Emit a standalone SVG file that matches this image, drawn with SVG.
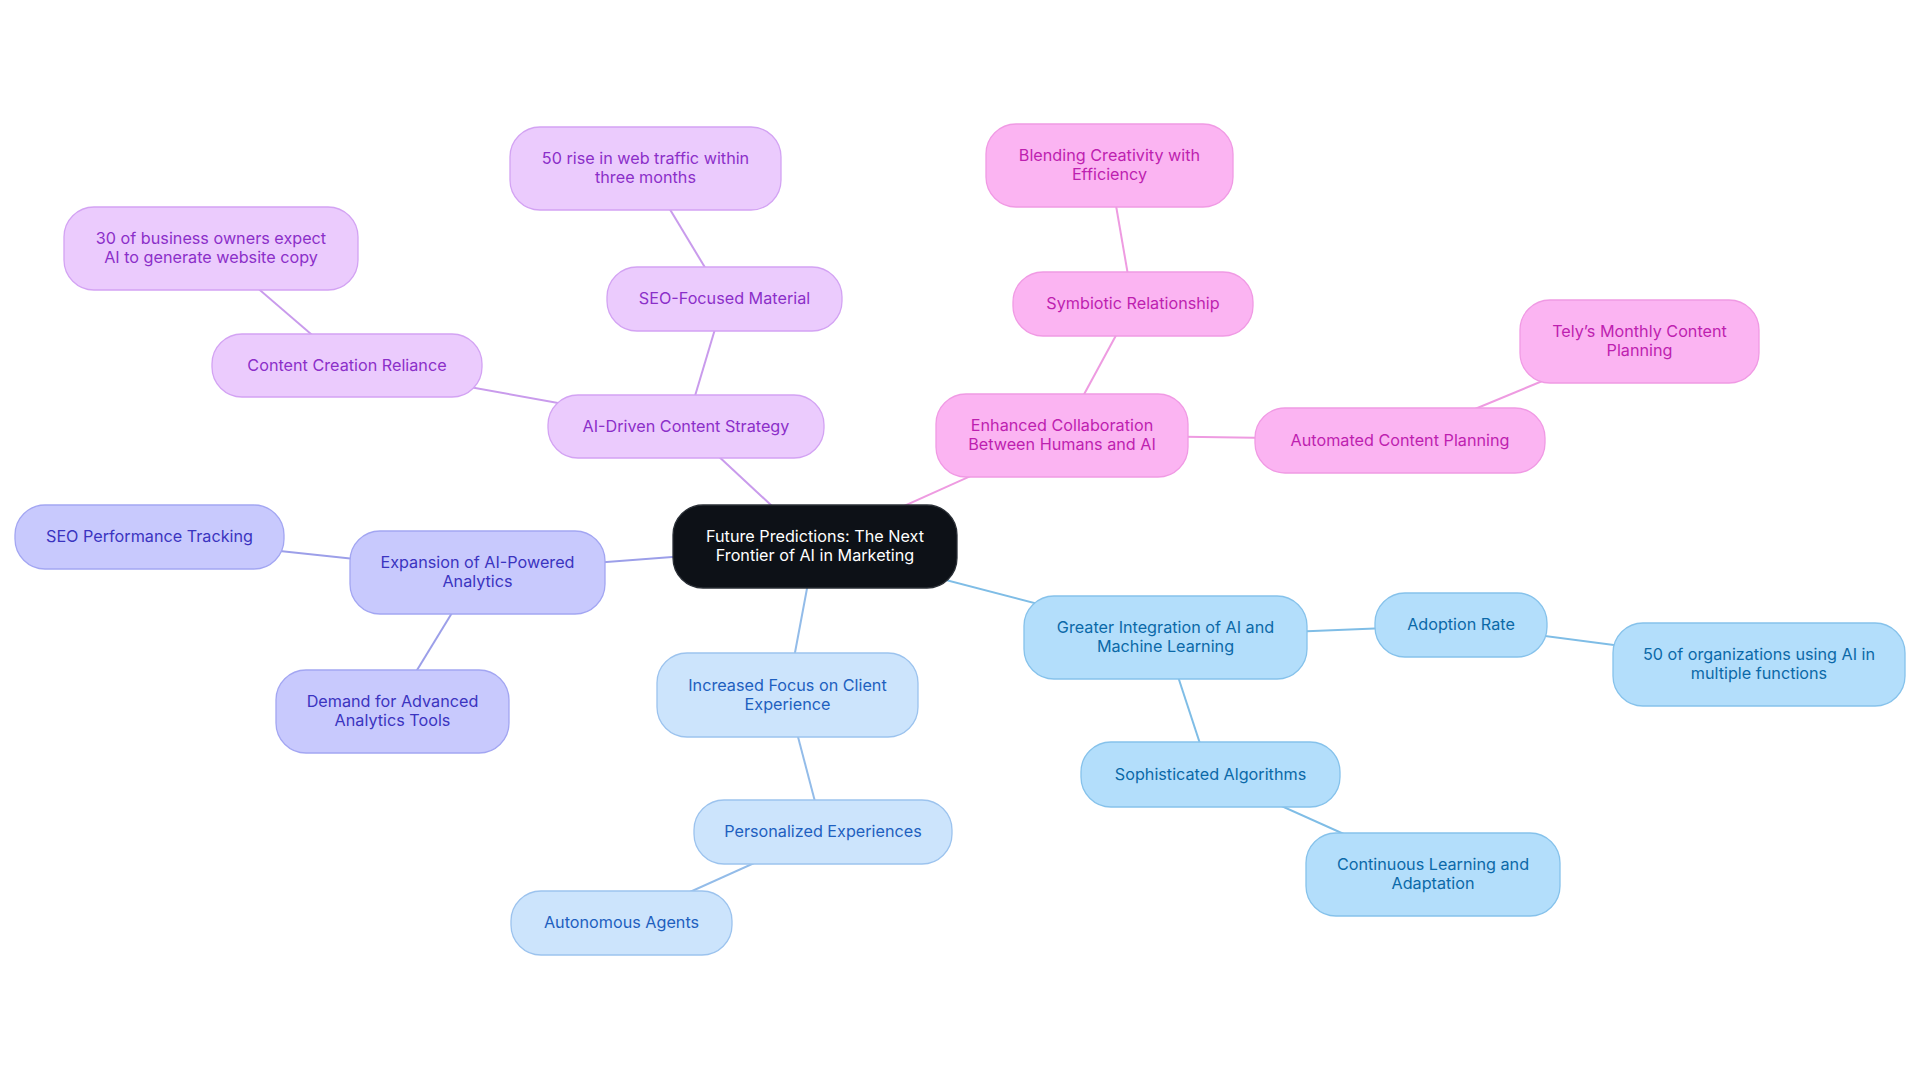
<svg xmlns="http://www.w3.org/2000/svg" width="1920" height="1083" viewBox="0 0 1920 1083">
<style>
text{font-family:Inter,"Noto Sans","Liberation Sans",sans-serif;font-size:16.2px;text-anchor:middle;dominant-baseline:central;transform:translateY(-1px)}
.n rect{stroke-width:1.3}
.c line{stroke-width:2;fill:none}
.pu rect{fill:#EBCBFD;stroke:#D3A3F3}.pu text{fill:#8B2FC9}
.pk rect{fill:#FBB4F2;stroke:#F09AE4}.pk text{fill:#BE1FB0}
.ind rect{fill:#C8C9FD;stroke:#A3A6F2}.ind text{fill:#3B34C0}
.lb rect{fill:#CCE4FC;stroke:#9CC3EE}.lb text{fill:#1E5FBF}
.sk rect{fill:#B3DEFB;stroke:#86C2EB}.sk text{fill:#0B69A8}
.root rect{fill:#0D1117;stroke:#2A2F36}.root text{fill:#FFFFFF}
</style>
<rect width="1920" height="1083" fill="#FFFFFF"/>
<g id="connectors" class="c">
<line x1="815" y1="546" x2="686" y2="426" stroke="#C99BEC"/>
<line x1="686" y1="426" x2="724" y2="299" stroke="#C99BEC"/>
<line x1="724" y1="299" x2="645" y2="168" stroke="#C99BEC"/>
<line x1="686" y1="426" x2="347" y2="365" stroke="#C99BEC"/>
<line x1="347" y1="365" x2="211" y2="248" stroke="#C99BEC"/>
<line x1="815" y1="546" x2="1062" y2="435" stroke="#EE9BE1"/>
<line x1="1062" y1="435" x2="1133" y2="304" stroke="#EE9BE1"/>
<line x1="1133" y1="304" x2="1109" y2="165" stroke="#EE9BE1"/>
<line x1="1062" y1="435" x2="1400" y2="440" stroke="#EE9BE1"/>
<line x1="1400" y1="440" x2="1639" y2="341" stroke="#EE9BE1"/>
<line x1="815" y1="546" x2="477" y2="572" stroke="#9C9FE9"/>
<line x1="477" y1="572" x2="149" y2="537" stroke="#9C9FE9"/>
<line x1="477" y1="572" x2="392" y2="711" stroke="#9C9FE9"/>
<line x1="815" y1="546" x2="787" y2="695" stroke="#93BCE9"/>
<line x1="787" y1="695" x2="823" y2="832" stroke="#93BCE9"/>
<line x1="823" y1="832" x2="621" y2="923" stroke="#93BCE9"/>
<line x1="815" y1="546" x2="1165" y2="637" stroke="#7FBDE6"/>
<line x1="1165" y1="637" x2="1461" y2="625" stroke="#7FBDE6"/>
<line x1="1461" y1="625" x2="1759" y2="664" stroke="#7FBDE6"/>
<line x1="1165" y1="637" x2="1210" y2="774" stroke="#7FBDE6"/>
<line x1="1210" y1="774" x2="1433" y2="874" stroke="#7FBDE6"/>
</g>
<g id="root" class="n root"><rect x="673" y="505" width="284" height="83" rx="30"/><text x="815" y="537">Future Predictions: The Next</text><text x="815" y="556">Frontier of AI in Marketing</text></g>
<g id="ai-driven" class="n pu"><rect x="548" y="395" width="276" height="63" rx="30"/><text x="686" y="426.5">AI-Driven Content Strategy</text></g>
<g id="seo-focused" class="n pu"><rect x="607" y="267" width="235" height="64" rx="30"/><text x="724.5" y="299">SEO-Focused Material</text></g>
<g id="web-traffic" class="n pu"><rect x="510" y="127" width="271" height="83" rx="30"/><text x="645.5" y="159">50 rise in web traffic within</text><text x="645.5" y="178">three months</text></g>
<g id="content-creation" class="n pu"><rect x="212" y="334" width="270" height="63" rx="30"/><text x="347" y="365.5">Content Creation Reliance</text></g>
<g id="business-owners" class="n pu"><rect x="64" y="207" width="294" height="83" rx="30"/><text x="211" y="239">30 of business owners expect</text><text x="211" y="258">AI to generate website copy</text></g>
<g id="enhanced" class="n pk"><rect x="936" y="394" width="252" height="83" rx="30"/><text x="1062" y="426">Enhanced Collaboration</text><text x="1062" y="445">Between Humans and AI</text></g>
<g id="symbiotic" class="n pk"><rect x="1013" y="272" width="240" height="64" rx="30"/><text x="1133" y="304">Symbiotic Relationship</text></g>
<g id="blending" class="n pk"><rect x="986" y="124" width="247" height="83" rx="30"/><text x="1109.5" y="156">Blending Creativity with</text><text x="1109.5" y="175">Efficiency</text></g>
<g id="automated" class="n pk"><rect x="1255" y="408" width="290" height="65" rx="30"/><text x="1400" y="440.5">Automated Content Planning</text></g>
<g id="telys" class="n pk"><rect x="1520" y="300" width="239" height="83" rx="30"/><text x="1639.5" y="332">Tely’s Monthly Content</text><text x="1639.5" y="351">Planning</text></g>
<g id="expansion" class="n ind"><rect x="350" y="531" width="255" height="83" rx="30"/><text x="477.5" y="563">Expansion of AI-Powered</text><text x="477.5" y="582">Analytics</text></g>
<g id="seo-tracking" class="n ind"><rect x="15" y="505" width="269" height="64" rx="30"/><text x="149.5" y="537">SEO Performance Tracking</text></g>
<g id="demand" class="n ind"><rect x="276" y="670" width="233" height="83" rx="30"/><text x="392.5" y="702">Demand for Advanced</text><text x="392.5" y="721">Analytics Tools</text></g>
<g id="client-experience" class="n lb"><rect x="657" y="653" width="261" height="84" rx="30"/><text x="787.5" y="685.5">Increased Focus on Client</text><text x="787.5" y="704.5">Experience</text></g>
<g id="personalized" class="n lb"><rect x="694" y="800" width="258" height="64" rx="30"/><text x="823" y="832">Personalized Experiences</text></g>
<g id="autonomous" class="n lb"><rect x="511" y="891" width="221" height="64" rx="30"/><text x="621.5" y="923">Autonomous Agents</text></g>
<g id="integration" class="n sk"><rect x="1024" y="596" width="283" height="83" rx="30"/><text x="1165.5" y="628">Greater Integration of AI and</text><text x="1165.5" y="647">Machine Learning</text></g>
<g id="adoption" class="n sk"><rect x="1375" y="593" width="172" height="64" rx="30"/><text x="1461" y="625">Adoption Rate</text></g>
<g id="organizations" class="n sk"><rect x="1613" y="623" width="292" height="83" rx="30"/><text x="1759" y="655">50 of organizations using AI in</text><text x="1759" y="674">multiple functions</text></g>
<g id="algorithms" class="n sk"><rect x="1081" y="742" width="259" height="65" rx="30"/><text x="1210.5" y="774.5">Sophisticated Algorithms</text></g>
<g id="continuous" class="n sk"><rect x="1306" y="833" width="254" height="83" rx="30"/><text x="1433" y="865">Continuous Learning and</text><text x="1433" y="884">Adaptation</text></g>
</svg>
